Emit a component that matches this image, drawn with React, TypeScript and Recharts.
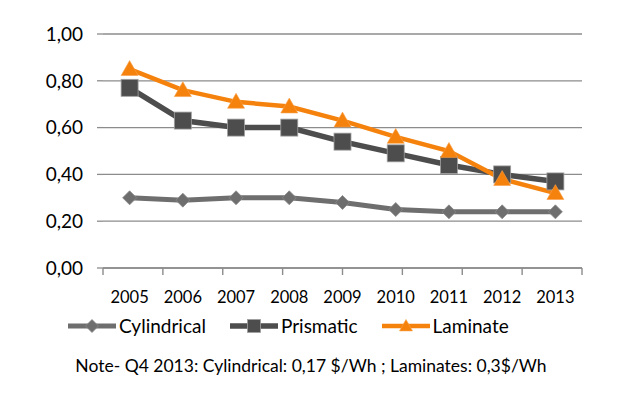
import React from "react";
import { LineChart, Line, XAxis, YAxis, CartesianGrid } from "recharts";

const years = ["2005", "2006", "2007", "2008", "2009", "2010", "2011", "2012", "2013"];
const cylindrical = [0.3, 0.29, 0.3, 0.3, 0.28, 0.25, 0.24, 0.24, 0.24];
const prismatic = [0.77, 0.63, 0.6, 0.6, 0.54, 0.49, 0.44, 0.4, 0.37];
const laminate = [0.85, 0.76, 0.71, 0.69, 0.63, 0.56, 0.5, 0.38, 0.32];
const yTicks = [0, 0.2, 0.4, 0.6, 0.8, 1];
const bandTicks = [0, 1, 2, 3, 4, 5, 6, 7, 8, 9];
const note = "Note- Q4 2013: Cylindrical: 0,17 $/Wh ; Laminates: 0,3$/Wh";

const data = years.map((year, i) => ({
  year,
  Cylindrical: cylindrical[i],
  Prismatic: prismatic[i],
  Laminate: laminate[i],
}));

const GRID = "#8c8c8c";
const FONT = "Lato, 'Open Sans', sans-serif";
const CYL = "#6e6e6e";
const PRI = "#4d4d4d";
const LAM = "#f5820c";

function Diamond({ cx, cy, s = 7 }: any) {
  return (
    <path
      d={`M${cx},${cy - s} L${cx + s},${cy} L${cx},${cy + s} L${cx - s},${cy} Z`}
      fill={CYL}
      stroke="#8a8a8a"
      strokeWidth={0.8}
    />
  );
}

function Square({ cx, cy, s = 8.5 }: any) {
  return (
    <rect x={cx - s} y={cy - s} width={s * 2} height={s * 2} fill={PRI} stroke="#a0a0a0" strokeWidth={0.8} />
  );
}

function Triangle({ cx, cy, s = 8.5 }: any) {
  return (
    <path
      d={`M${cx},${cy - s} L${cx + s},${cy + s * 0.75} L${cx - s},${cy + s * 0.75} Z`}
      fill={LAM}
      stroke="#f9a04a"
      strokeWidth={0.6}
    />
  );
}

const series = [
  { key: "Cylindrical", color: CYL, width: 5, Marker: Diamond },
  { key: "Prismatic", color: PRI, width: 5.5, Marker: Square },
  { key: "Laminate", color: LAM, width: 4.5, Marker: Triangle },
];

const fmt = (v: number) => v.toFixed(2).replace(".", ",");

// category boundary tick marks, drawn from the numeric band axis
const BandTick = (p: any) => (
  <line key={`b-${p.index}`} x1={p.x} x2={p.x} y1={p.y} y2={p.y + 7} stroke={GRID} strokeWidth={1.4} />
);

export default function App() {
  return (
    <div style={{ position: "absolute", left: 0, top: 0, width: 622, height: 402, background: "#fff", fontFamily: FONT }}>
      <LineChart width={622} height={402} data={data} margin={{ top: 34, right: 40, left: 0, bottom: 104 }}>
        <CartesianGrid xAxisId="cat" vertical={false} stroke={GRID} strokeWidth={1.3} />
        <XAxis
          xAxisId="band"
          type="number"
          domain={[0, 9]}
          ticks={bandTicks}
          tick={BandTick}
          height={1}
          axisLine={{ stroke: GRID, strokeWidth: 1.3 }}
          tickLine={false}
          tickSize={0}
          tickMargin={0}
          interval={0}
        />
        <XAxis
          xAxisId="cat"
          dataKey="year"
          scale="band"
          height={29}
          axisLine={false}
          tickLine={false}
          tickSize={6}
          tickMargin={16}
          interval={0}
          tick={{ fontSize: 16.5, fill: "#000", fontFamily: FONT }}
        />
        <YAxis
          width={103}
          domain={[0, 1]}
          ticks={yTicks}
          tickFormatter={fmt}
          axisLine={false}
          tickLine={{ stroke: GRID, strokeWidth: 1.3 }}
          tickSize={6}
          tickMargin={14}
          tick={{ fontSize: 19, fill: "#000", fontFamily: FONT }}
        />
        {series.map((s) => (
          <Line
            key={s.key}
            xAxisId="cat"
            dataKey={s.key}
            stroke={s.color}
            strokeWidth={s.width}
            isAnimationActive={false}
            dot={(p: any) => <s.Marker key={`${s.key}-${p.index}`} cx={p.cx} cy={p.cy} />}
            activeDot={false}
          />
        ))}
      </LineChart>
      <div style={{ position: "absolute", left: 66, top: 314, display: "flex", alignItems: "center", gap: 22 }}>
        {series.map((s) => (
          <div key={s.key} style={{ display: "flex", alignItems: "center" }}>
            <svg width={52} height={20}>
              <line x1={2} x2={50} y1={10} y2={10} stroke={s.color} strokeWidth={s.width} />
              <s.Marker cx={26} cy={10} s={6.5} />
            </svg>
            <span style={{ fontSize: 19, color: "#000", marginLeft: 1 }}>{s.key}</span>
          </div>
        ))}
      </div>
      <div style={{ position: "absolute", left: 0, width: 622, top: 355, textAlign: "center", fontSize: 17.5, color: "#000" }}>
        {note}
      </div>
    </div>
  );
}
